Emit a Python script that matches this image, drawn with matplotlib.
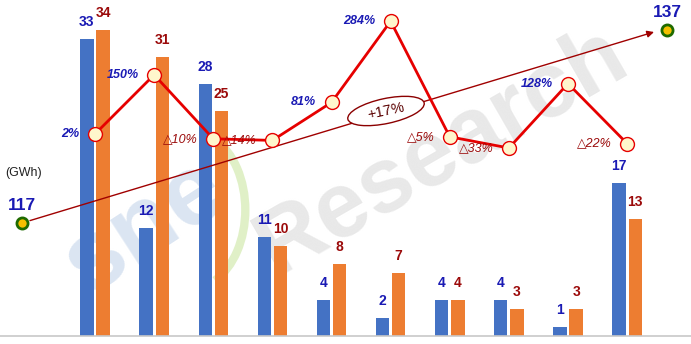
import numpy as np
import matplotlib.pyplot as plt
from matplotlib.patches import Ellipse, Arc

plt.rcParams['font.family'] = ['Liberation Sans', 'DejaVu Sans']

# ─── Data ─────────────────────────────────────────────────────────────────────
blue_vals = [33, 12, 28, 11, 4, 2, 4, 4, 1, 17]
orange_vals = [34, 31, 25, 10, 8, 7, 4, 3, 3, 13]
growth_pct = [2, 150, -10, -14, 81, 284, -5, -33, 128, -22]
totals = [117, 137]
total_growth = '+17%'

BLUE = '#4472c4'
ORANGE = '#ed7d31'
LBL_BLUE = '#1a1ab4'
LBL_RED = '#9b0a0a'

fig = plt.figure(figsize=(6.91, 3.44), dpi=100)
ax = fig.add_axes([0, 8 / 344, 1, 336 / 344])
ax.set_xlim(-1.607, 10.08)
ax.set_ylim(0, 37.3)
for s in ['top', 'right', 'left']:
    ax.spines[s].set_visible(False)
ax.spines['bottom'].set_color('#c8c8c8')
ax.spines['bottom'].set_linewidth(1.2)
ax.set_xticks([])
ax.set_yticks([])

# watermark (behind the bars)
ax.text(0.21, 0.34, 'sne', transform=fig.transFigure, fontsize=72,
        fontweight='bold', color='#c3d4ea', alpha=0.6, rotation=33,
        ha='center', va='center', zorder=0.5)
ax.text(0.64, 0.56, 'Research', transform=fig.transFigure, fontsize=66,
        fontweight='bold', color='#dadada', alpha=0.6, rotation=30,
        ha='center', va='center', zorder=0.5)
ax.add_patch(Arc((0.275, 0.39), 0.16, 0.46, theta1=-80, theta2=80,
                 transform=fig.transFigure, color='#d3eab0', lw=6,
                 alpha=0.7, zorder=0.5))

x = np.arange(len(blue_vals))
w = 0.225
off = 0.137
ax.bar(x - off, blue_vals, w, color=BLUE, zorder=2)
ax.bar(x + off, orange_vals, w, color=ORANGE, zorder=2)

for xi, b, o in zip(x, blue_vals, orange_vals):
    ax.annotate(str(b), (xi - off, b), xytext=(0, 7), textcoords='offset points',
                ha='center', va='bottom', color=LBL_BLUE, fontsize=10,
                fontweight='bold')
    ax.annotate(str(o), (xi + off, o), xytext=(0, 7), textcoords='offset points',
                ha='center', va='bottom', color=LBL_RED, fontsize=10,
                fontweight='bold')

# growth line on secondary scale
ax2 = ax.twinx()
ax2.set_ylim(-503, 337)
ax2.axis('off')
ax2.plot(x, growth_pct, color='#e60000', lw=2, zorder=4,
         marker='o', markersize=10, markerfacecolor='#fff6cc',
         markeredgecolor='#e60000', markeredgewidth=1.0)
for xi, p in zip(x, growth_pct):
    if p >= 0:
        txt, col, fw = f'{p}%', LBL_BLUE, 'bold'
    else:
        txt, col, fw = f'\u25b3{abs(p)}%', LBL_RED, 'normal'
    ax2.annotate(txt, (xi, p), xytext=(-11, 0), textcoords='offset points',
                 ha='right', va='center', color=col, fontsize=9,
                 fontstyle='italic', fontweight=fw, zorder=5)

# totals trend arrow (positions in figure pixels -> inches)
inch = fig.dpi_scale_trans
p0 = (22 / 100, (344 - 223) / 100)
p1 = (667 / 100, (344 - 30) / 100)
ax2.annotate('', xy=(654 / 100, (344 - 32) / 100), xytext=p0,
             xycoords=inch, textcoords=inch,
             arrowprops=dict(arrowstyle='-|>', color='#a00000', lw=1.0,
                             mutation_scale=10, shrinkA=6, shrinkB=0),
             zorder=3)
for (px, py), t in zip([p0, p1], totals):
    ax2.plot(px, py, 'o', transform=inch, markersize=8,
             markerfacecolor='#f5c000', markeredgecolor='#1f6b00',
             markeredgewidth=2, zorder=6, clip_on=False)
    ax2.annotate(str(t), (px, py), xycoords=inch, xytext=(0, 7),
                 textcoords='offset points', ha='center', va='bottom',
                 color=LBL_BLUE, fontsize=12.5, fontweight='bold')

ell_c = (386 / 100, (344 - 111) / 100)
ax2.add_patch(Ellipse(ell_c, 0.78, 0.25, angle=12, transform=inch,
                      facecolor='white', edgecolor='#8b0000', lw=1.0,
                      zorder=5))
ax2.text(ell_c[0], ell_c[1], total_growth, transform=inch, ha='center',
         va='center', fontsize=10.5, color='#5a0000', rotation=12, zorder=6)

fig.text(5 / 691, 1 - 173 / 344, '(GWh)', ha='left', va='center', fontsize=9,
         color='#222222')

fig.savefig('out.png', dpi=100)
